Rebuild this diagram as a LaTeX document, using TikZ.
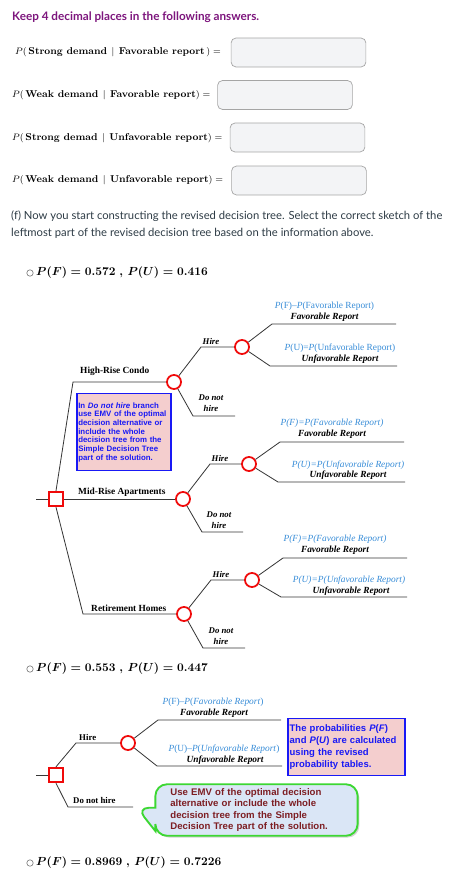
\documentclass[tikz,border=0pt]{standalone}
\usepackage[no-math]{fontspec}
\usepackage{amsmath,amssymb}
\usetikzlibrary{positioning,calc}
\usetikzlibrary{shapes.callouts,shadows}
\newfontfamily\uifont{Lato}
\newfontfamily\treefont{Liberation Serif}
\newfontfamily\notefont{Liberation Sans}
\definecolor{CanvasPurple}{RGB}{125,22,125}
\definecolor{CanvasText}{RGB}{45,59,69}
\definecolor{FieldGray}{RGB}{243,244,246}
\definecolor{FieldLine}{RGB}{165,165,165}
\definecolor{TreeLine}{RGB}{55,55,55}
\definecolor{NodeRed}{RGB}{240,10,10}
\definecolor{ProbBlue}{RGB}{55,140,215}
\definecolor{NoteBlue}{RGB}{25,25,245}
\definecolor{NotePink}{RGB}{244,206,206}
\definecolor{TipGreen}{RGB}{60,215,50}
\definecolor{TipFill}{RGB}{218,230,246}
\definecolor{TipText}{RGB}{125,30,35}
\tikzset{
  field/.style={draw=FieldLine,fill=FieldGray,rounded corners=4pt,line width=0.6pt,
    minimum width=115pt,minimum height=24.6pt,inner sep=0pt},
  chance/.style={circle,draw=NodeRed,fill=white,line width=1.5pt,minimum size=12pt,inner sep=0pt},
  decide/.style={rectangle,draw=NodeRed,fill=white,line width=1.5pt,minimum size=12.5pt,inner sep=0pt},
  branch/.style={draw=TreeLine,line width=0.7pt},
  alt/.style={font=\treefont\bfseries\fontsize{8}{9}\selectfont,anchor=west,inner sep=0pt},
  act/.style={font=\treefont\bfseries\itshape\fontsize{7.5}{9.3}\selectfont,align=center,inner sep=0pt},
  prob/.style={text=ProbBlue,font=\treefont\fontsize{8}{9}\selectfont,inner sep=0pt},
  rep/.style={font=\treefont\bfseries\itshape\fontsize{8}{9}\selectfont,inner sep=0pt},
}
\tikzset{row/.style={anchor=west,inner sep=0pt,font=\fontsize{8.5}{11}\selectfont},
  pick/.style={anchor=west,inner sep=0pt,font=\fontsize{9.7}{11}\selectfont\boldmath},
  radio/.style={circle,draw=black!55,fill=white,line width=0.5pt,minimum size=5.5pt,inner sep=0pt},
  note/.style={draw=NoteBlue,fill=NotePink,line width=1.3pt,text=NoteBlue,align=left,inner xsep=1pt,inner ysep=2.5pt},
  emvnote/.style={rectangle callout,draw=TipGreen,fill=TipFill,line width=1.6pt,text=TipText,
    rounded corners=10pt,align=left,inner sep=0pt,callout pointer width=20pt,
    drop shadow={opacity=0.35,shadow xshift=1.5pt,shadow yshift=-1.5pt},
    font=\notefont\bfseries\fontsize{8.2}{9.9}\selectfont}}

\begin{document}
\begin{tikzpicture}[x=0.03cm,y=-0.03cm]
\useasboundingbox (0,0) rectangle (462,873);
% answers
\node[anchor=west,inner sep=0pt,text=CanvasPurple,font=\uifont\bfseries\fontsize{10}{12}\selectfont] (keep) at (12,17) {Keep 4 decimal places in the following answers.};
\node[row] (q1) at (15,52) {$P(\,\textbf{Strong demand}\,\mid\,\textbf{Favorable report}\,)=$};
\node[row] (q2) at (12,95) {$P(\,\textbf{Weak demand}\,\mid\,\textbf{Favorable report})=$};
\node[row] (q3) at (12,138) {$P(\,\textbf{Strong demad}\,\mid\,\textbf{Unfavorable report})=$};
\node[row] (q4) at (12,180) {$P(\,\textbf{Weak demand}\,\mid\,\textbf{Unfavorable report})=$};
\node[field] (ans1) at (298.5,52.5) {};
\node[field] (ans2) at (285,95) {};
\node[field] (ans3) at (297.5,137.5) {};
\node[field] (ans4) at (299,180.5) {};
\node[anchor=west,inner sep=0pt,text=CanvasText,font=\uifont\fontsize{9.6}{11}\selectfont] (f1) at (11,216) {(f) Now you start constructing the revised decision tree. Select the correct sketch of the};
\node[anchor=west,inner sep=0pt,text=CanvasText,font=\uifont\fontsize{9.6}{11}\selectfont] (f2) at (11,233) {leftmost part of the revised decision tree based on the information above.};
% option 1
\node[radio] (r1) at (30,273) {};
\node[pick] (o1) at (36,273) {$P(F)=0.572\;,\,P(U)=0.416$};
\coordinate (in1) at (36,499);
\node[decide] (d1) at (56,499) {};
\coordinate (up1) at (73,382);
\coordinate (lo1) at (83,614);
\node[chance] (condo) at (174,382) {};
\node[chance] (mid) at (183,499) {};
\node[chance] (ret) at (184,614) {};
\draw[branch] (in1) -- (d1.west);
\draw[branch] (d1.north) -- (up1) -- (condo);
\draw[branch] (d1.east) -- (mid);
\draw[branch] (d1.south) -- (lo1) -- (ret);
\node[alt] (altc) at (80,371) {High-Rise Condo};
\node[alt] (altm) at (78,492) {Mid-Rise Apartments};
\node[alt] (altr) at (91,608) {Retirement Homes};
% high-rise condo
\coordinate (h1) at (201,347);
\node[chance] (hire1) at (242,347) {};
\coordinate (fb1) at (272,324);
\coordinate (fe1) at (396,324);
\coordinate (ub1) at (270,366);
\coordinate (ue1) at (397,366);
\coordinate (nb1) at (193,416);
\coordinate (ne1) at (235,416);
\draw[branch] (condo) -- (h1) -- (hire1);
\draw[branch] (hire1) -- (fb1) -- (fe1);
\draw[branch] (hire1) -- (ub1) -- (ue1);
\draw[branch] (condo) -- (nb1) -- (ne1);
\node[act] (hl1) at (211,341) {Hire};
\node[act] (nl1) at (211,403.5) {Do not\\hire};
\node[prob] (pf1) at (324.5,306) {\textit{P}(F)–\textit{P}(Favorable Report)};
\node[rep] (rf1) at (324.5,317) {Favorable Report};
\node[prob] (pu1) at (340,348) {\textit{P}(U)=\textit{P}(Unfavorable Report)};
\node[rep] (ru1) at (340,359) {Unfavorable Report};
\node[note,minimum width=80pt,minimum height=66pt,text width=78pt,
  font=\notefont\bfseries\fontsize{6.7}{7.4}\selectfont] (note1) at (124,432)
  {In \textit{Do not hire} branch\\use EMV of the optimal\\decision alternative or\\include the whole\\decision tree from the\\Simple Decision Tree\\part of the solution.};
% mid-rise apartments
\coordinate (h2) at (210,464);
\node[chance] (hire2) at (249,464) {};
\coordinate (fb2) at (280,442);
\coordinate (fe2) at (404,442);
\coordinate (ub2) at (278,482);
\coordinate (ue2) at (405,482);
\coordinate (nb2) at (202,532);
\coordinate (ne2) at (243,532);
\draw[branch] (mid) -- (h2) -- (hire2);
\draw[branch] (hire2) -- (fb2) -- (fe2);
\draw[branch] (hire2) -- (ub2) -- (ue2);
\draw[branch] (mid) -- (nb2) -- (ne2);
\node[act] (hl2) at (220,458) {Hire};
\node[act] (nl2) at (219,520.5) {Do not\\hire};
\node[prob,font=\treefont\itshape\fontsize{8}{9}\selectfont] (pf2) at (332,423) {P(F)=P(Favorable Report)};
\node[rep] (rf2) at (332,434) {Favorable Report};
\node[prob,font=\treefont\itshape\fontsize{8}{9}\selectfont] (pu2) at (348,465) {P(U)=P(Unfavorable Report)};
\node[rep] (ru2) at (348,475) {Unfavorable Report};
% retirement homes
\coordinate (h3) at (211,580);
\node[chance] (hire3) at (252,580) {};
\coordinate (fb3) at (283,558);
\coordinate (fe3) at (407,558);
\coordinate (ub3) at (281,597);
\coordinate (ue3) at (407,597);
\coordinate (nb3) at (203,648);
\coordinate (ne3) at (245,648);
\draw[branch] (ret) -- (h3) -- (hire3);
\draw[branch] (hire3) -- (fb3) -- (fe3);
\draw[branch] (hire3) -- (ub3) -- (ue3);
\draw[branch] (ret) -- (nb3) -- (ne3);
\node[act] (hl3) at (221,574) {Hire};
\node[act] (nl3) at (221,636.5) {Do not\\hire};
\node[prob,font=\treefont\itshape\fontsize{8}{9}\selectfont] (pf3) at (335,539) {P(F)=P(Favorable Report)};
\node[rep] (rf3) at (335,550) {Favorable Report};
\node[prob,font=\treefont\itshape\fontsize{8}{9}\selectfont] (pu3) at (349,580) {P(U)=P(Unfavorable Report)};
\node[rep] (ru3) at (351,591) {Unfavorable Report};
% option 2
\node[radio] (r2) at (30,669) {};
\node[pick] (o2) at (36,669) {$P(F)=0.553\;,\,P(U)=0.447$};
\coordinate (in2) at (36,775);
\node[decide] (d2) at (56,775) {};
\coordinate (h4) at (76,743);
\node[chance] (hire4) at (128,743) {};
\coordinate (fb4) at (158,720);
\coordinate (fe4) at (281,720);
\coordinate (ub4) at (157,766);
\coordinate (ue4) at (282,766);
\coordinate (nb4) at (68,807);
\coordinate (ne4) at (133,807);
\draw[branch] (in2) -- (d2.west);
\draw[branch] (d2.north) -- (h4) -- (hire4);
\draw[branch] (hire4) -- (fb4) -- (fe4);
\draw[branch] (hire4) -- (ub4) -- (ue4);
\draw[branch] (d2.south) -- (nb4) -- (ne4);
\node[alt,font=\treefont\bfseries\fontsize{7.5}{9}\selectfont] (hl4) at (79,737) {Hire};
\node[alt,font=\treefont\bfseries\fontsize{7.5}{9}\selectfont] (nl4) at (73,800) {Do not hire};
\node[prob] (pf4) at (213,702) {\textit{P}(F)–\textit{P}(\textit{Favorable Report})};
\node[rep] (rf4) at (214,713) {Favorable Report};
\node[prob] (pu4) at (224,749) {\textit{P}(U)–\textit{P}(\textit{Unfavorable Report})};
\node[rep] (ru4) at (225,760) {Unfavorable Report};
\node[note,minimum width=99.5pt,minimum height=49pt,text width=97pt,
  font=\notefont\bfseries\fontsize{8.1}{10.2}\selectfont] (note2) at (346.5,747)
  {The probabilities \textit{P}(\textit{F})\\and \textit{P}(\textit{U}) are calculated\\using the revised\\probability tables.};
\coordinate (tipend) at (137,808);
\node[emvnote,minimum width=172.6pt,minimum height=44pt,text width=147pt,
  callout absolute pointer={(tipend)}] (emv) at (256.5,810)
  {Use EMV of the optimal decision\\alternative or include the whole\\decision tree from the Simple\\Decision Tree part of the solution.};
% option 3
\node[radio] (r3) at (30,863) {};
\node[pick] (o3) at (36,863) {$P(F)=0.8969\;,\,P(U)=0.7226$};
\end{tikzpicture}
\end{document}
